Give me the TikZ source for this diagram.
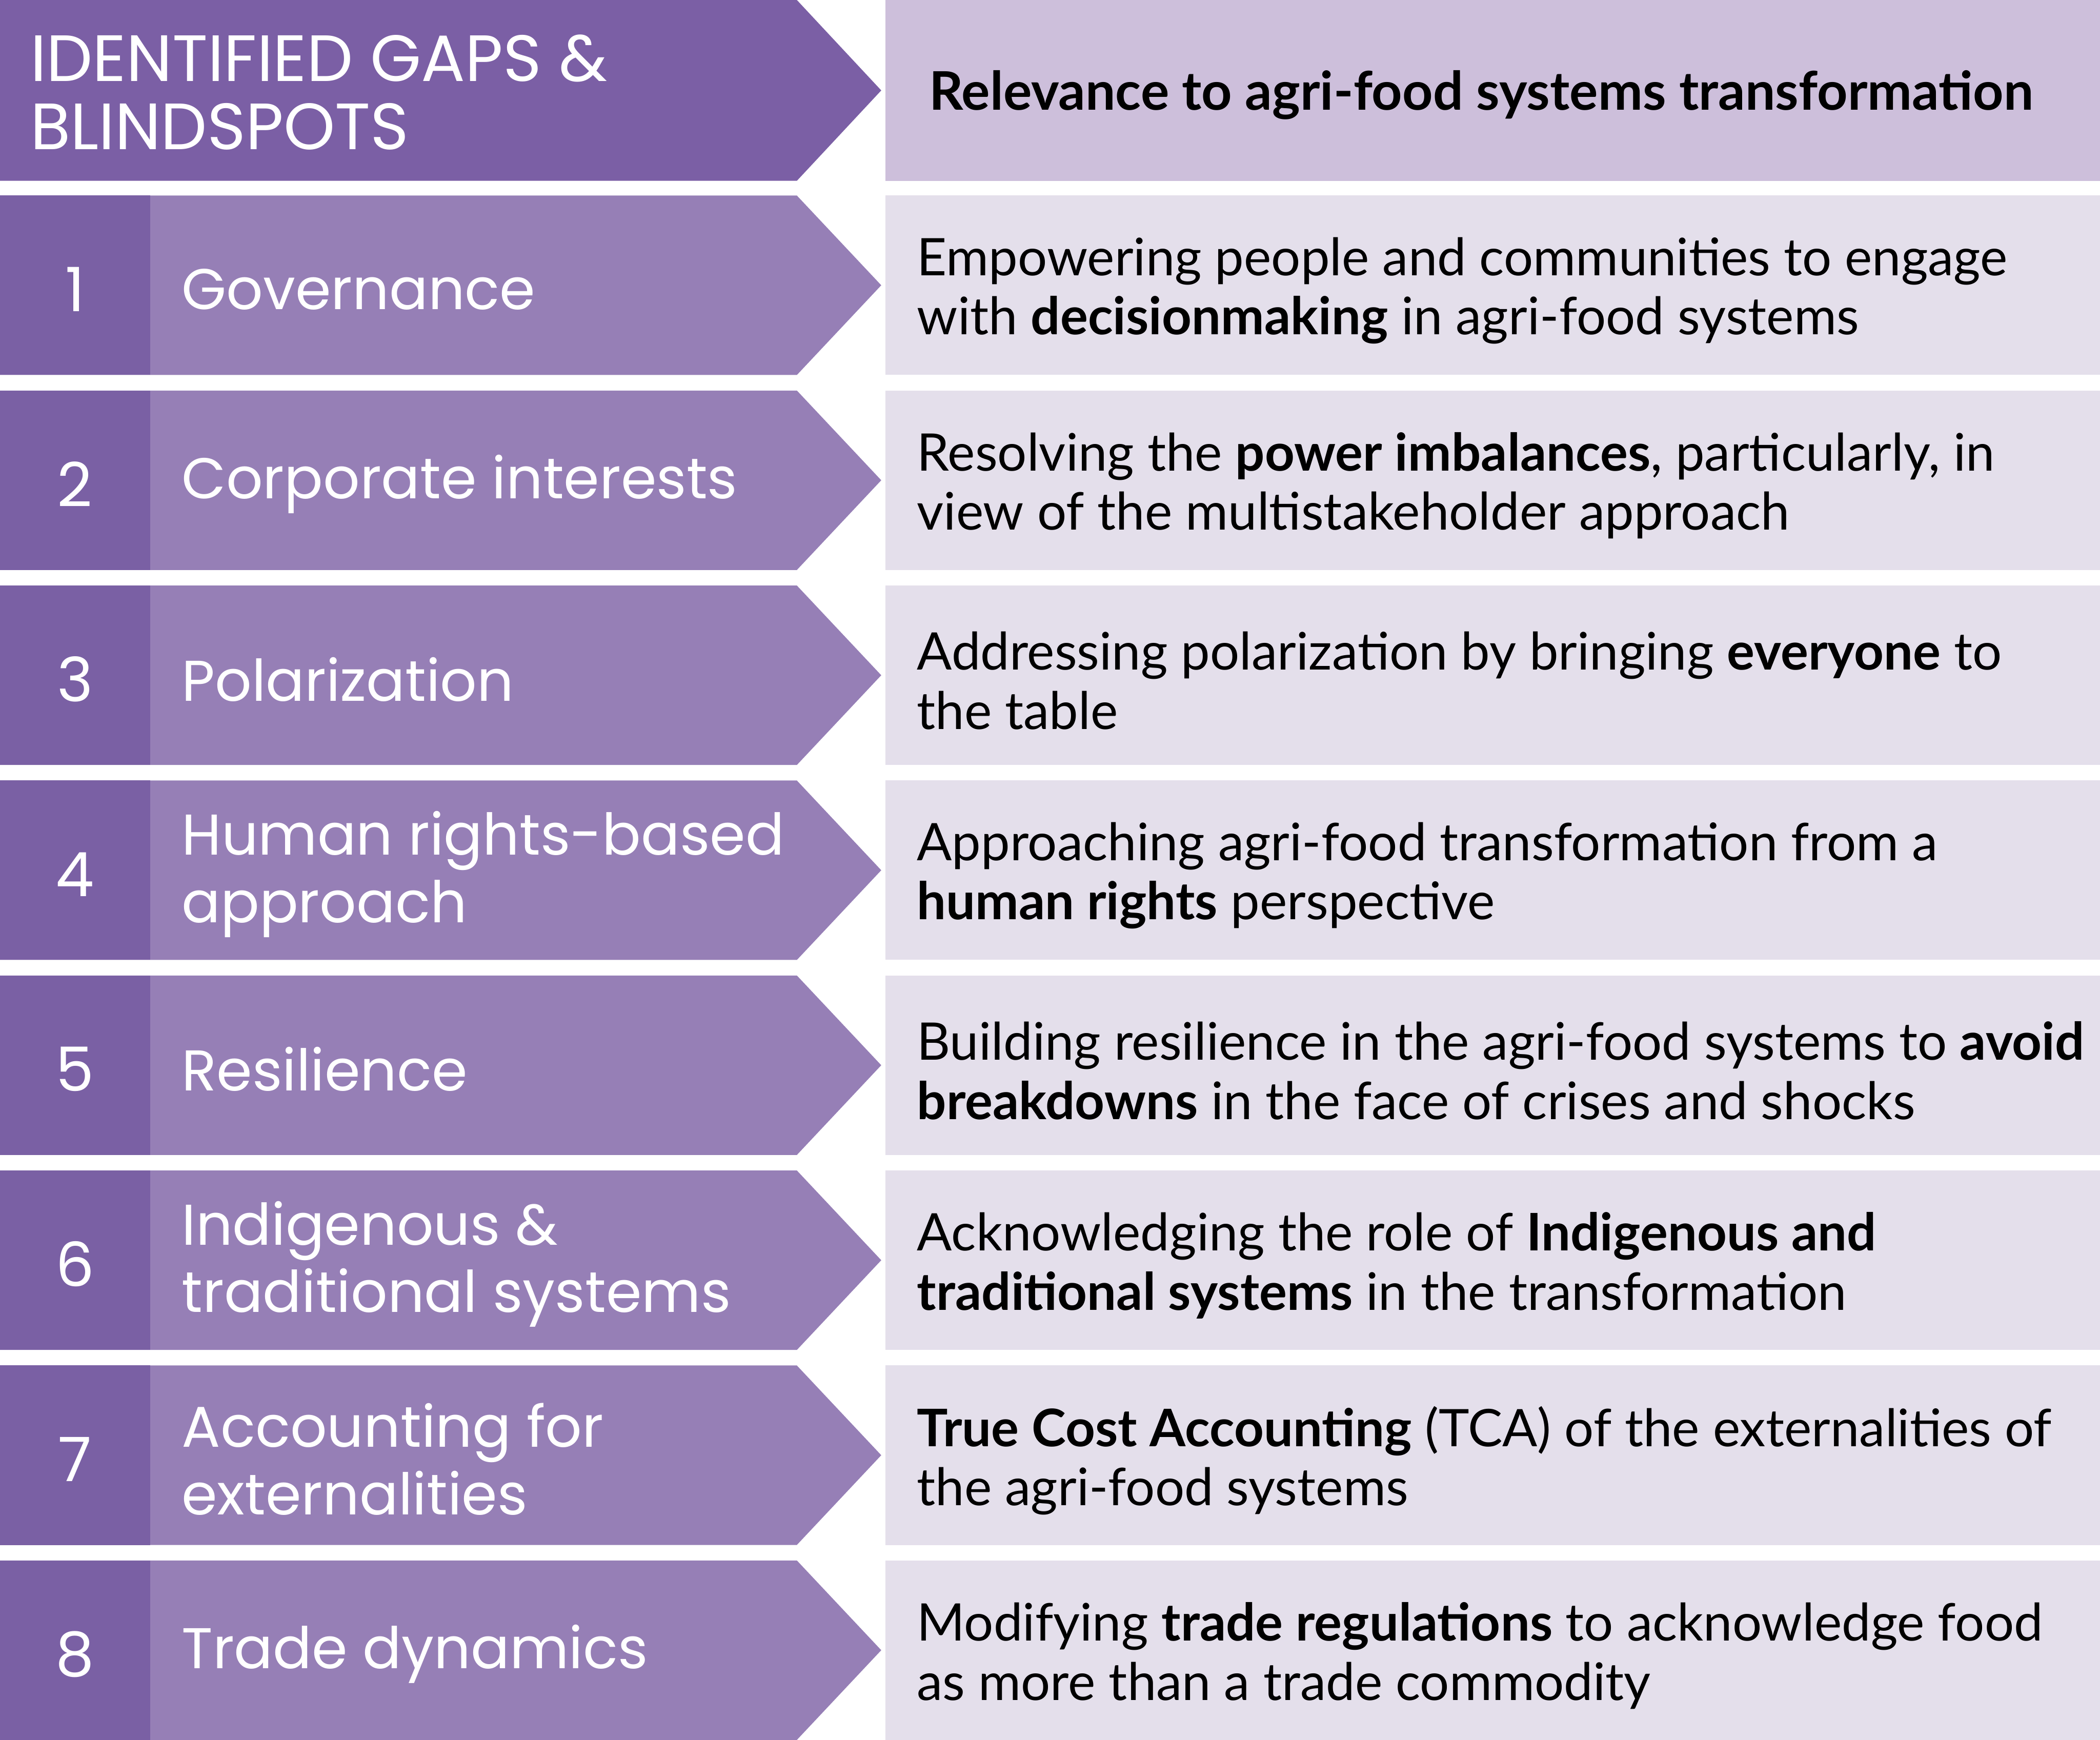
\documentclass[tikz,border=0pt]{standalone}
\usepackage{fontspec}
\setmainfont{Lato}
\newfontfamily\headf{Poppins}
\definecolor{hdark}{HTML}{7B5FA5}
\definecolor{hlight}{HTML}{CDBFDB}
\definecolor{ndark}{HTML}{7A60A4}
\definecolor{nmid}{HTML}{967FB6}
\definecolor{rlight}{HTML}{E4DFEB}
\tikzset{
 lbl/.style={anchor=west,align=left,text=white,font=\headf\fontsize{12.2}{14.3}\selectfont,inner sep=0},
 hlbl/.style={anchor=west,align=left,text=white,font=\headf\fontsize{13.9}{14.5}\selectfont,inner sep=0},
 num/.style={text=white,font=\headf\fontsize{13}{14.5}\selectfont,inner sep=0},
 rtxt/.style={anchor=west,align=left,text=black,font=\fontsize{11}{12.6}\selectfont,inner sep=0}
}
\begin{document}
\begin{tikzpicture}[x=0.01cm,y=-0.01cm]
\useasboundingbox (0,0) rectangle (1568,1299);
\fill[hdark] (0,0)--(595,0)--(658,67.5)--(595,135)--(0,135)--cycle;
\fill[hlight] (661,0) rectangle (1568,135);
\node[hlbl] (h1) at (22,69) {IDENTIFIED GAPS \&\\BLINDSPOTS};
\node[anchor=center,font=\bfseries\fontsize{11.3}{12.6}\selectfont,inner sep=0] (h2) at (1106,71) {Relevance to agri-food systems transformation};
\foreach \i/\l/\r in {
 1/{Governance}/{Empowering people and communities to engage\\with \textbf{decisionmaking} in agri-food systems},
 2/{Corporate interests}/{Resolving the \textbf{power imbalances}, particularly, in\\view of the multistakeholder approach},
 3/{Polarization}/{Addressing polarization by bringing \textbf{everyone} to\\the table},
 4/{Human rights-based\\approach}/{Approaching agri-food transformation from a\\\textbf{human rights} perspective},
 5/{Resilience}/{Building resilience in the agri-food systems to \textbf{avoid}\\\textbf{breakdowns} in the face of crises and shocks},
 6/{Indigenous \&\\traditional systems}/{Acknowledging the role of \textbf{Indigenous and}\\\textbf{traditional systems} in the transformation},
 7/{Accounting for\\externalities}/{\textbf{True Cost Accounting} (TCA) of the externalities of\\the agri-food systems},
 8/{Trade dynamics}/{Modifying \textbf{trade regulations} to acknowledge food\\as more than a trade commodity}}{
 \pgfmathsetmacro\t{146+(\i-1)*145.6}
 \pgfmathsetmacro\b{\t+134}
 \pgfmathsetmacro\m{\t+67}
 \fill[nmid] (0,\t)--(595,\t)--(658,\m)--(595,\b)--(0,\b)--cycle;
 \fill[ndark] (0,\t) rectangle (112,\b);
 \fill[rlight] (661,\t) rectangle (1568,\b);
 \node[num] (n\i) at (56,\m+3) {\i};
 \node[lbl] (l\i) at (135,\m+3) {\l};
 \node[rtxt] (r\i) at (684,\m+4) {\r};
}
\end{tikzpicture}
\end{document}
